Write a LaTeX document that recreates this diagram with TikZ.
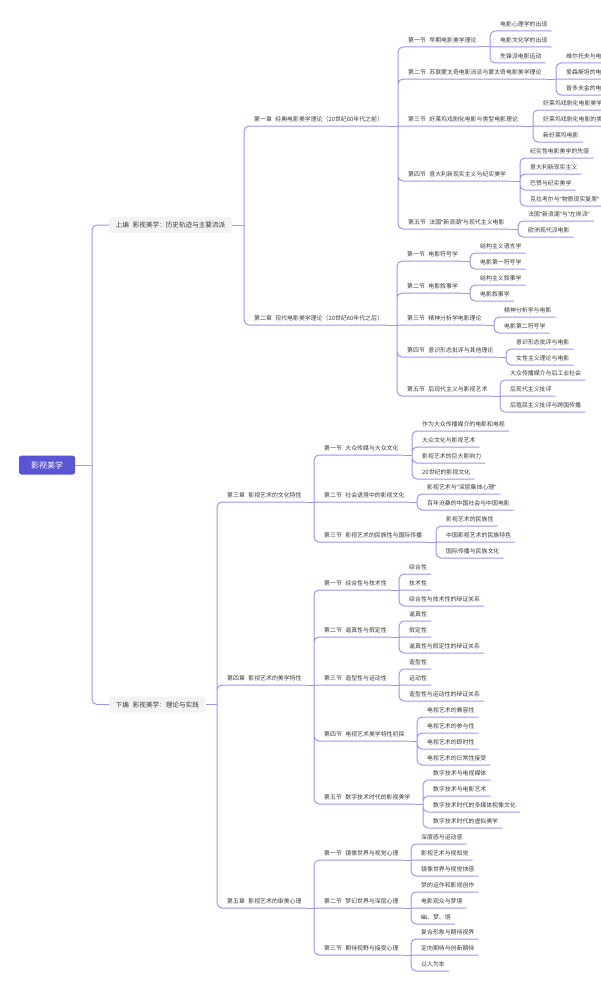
\documentclass[tikz,border=0pt]{standalone}
\usepackage{fontspec}
\usepackage{tikz}
\newfontfamily\cjk{Noto Sans CJK SC}
\newfontfamily\qfont{Noto Sans}
\definecolor{linkc}{HTML}{9B97EE}
\definecolor{rootc}{HTML}{5A55D5}
\definecolor{textc}{HTML}{3A3A3A}
\definecolor{partc}{HTML}{F3F3F5}
\newcommand\tsep{\hspace{0.6em}}
\newcommand\oq{{\qfont “}}
\newcommand\cq{{\qfont ”}}
\tikzset{
  link/.style={draw=linkc, line width=1pt, rounded corners=5pt},
  topic/.style={anchor=south west, inner xsep=4pt, inner ysep=0pt, text height=5.5pt, text depth=4.7pt, font=\cjk\fontsize{5.9}{7}\selectfont, text=textc},
  part/.style={anchor=west, fill=partc, rounded corners=2pt, inner xsep=6.5pt, minimum height=16pt, font=\cjk\fontsize{6.6}{8}\selectfont, text=textc},
  rootbox/.style={fill=rootc, rounded corners=2.5pt, inner xsep=12pt, minimum height=19pt, font=\cjk\fontsize{8}{10}\selectfont, text=white}
}
\begin{document}
\begin{tikzpicture}[x=1pt,y=-1pt]
\useasboundingbox (0,0) rectangle (600,990);

\node[rootbox] (root) at (47,465) {影视美学};
\node[part] (upper) at (109,225) {上编\tsep 影视美学：历史轨迹与主要流派};
\node[part] (lower) at (109,704.5) {下编\tsep 影视美学：理论与实践};

\coordinate (troot) at (92,465);
\draw[link] (root.east) -- (troot);
\draw[link] (troot) |- (upper.west) (troot) |- (lower.west);

% chapters
\node[topic] (ch1) at (250,126) {第一章\tsep 经典电影美学理论（20世纪60年代之前）};
\node[topic] (ch2) at (250,325) {第二章\tsep 现代电影美学理论（20世纪60年代之后）};
\node[topic] (ch3) at (223,502) {第三章\tsep 影视艺术的文化特性};
\node[topic] (ch4) at (223,685) {第四章\tsep 影视艺术的美学特性};
\node[topic] (ch5) at (223,908) {第五章\tsep 影视艺术的审美心理};

\coordinate (tup) at (244,225);
\draw[link] (upper.east) -- (tup);
\draw[link] (tup) |- (ch1.south east) (tup) |- (ch2.south east);
\coordinate (tlow) at (217,704.5);
\draw[link] (lower.east) -- (tlow);
\draw[link] (tlow) |- (ch3.south east) (tlow) |- (ch4.south east) (tlow) |- (ch5.south east);

% sections
\node[topic] (s11) at (404,47) {第一节\tsep 早期电影美学理论};
\node[topic] (s12) at (404,79) {第二节\tsep 苏联蒙太奇电影流派与蒙太奇电影美学理论};
\node[topic] (s13) at (404,126) {第三节\tsep 好莱坞戏剧化电影与类型电影理论};
\node[topic] (s14) at (404,181) {第四节\tsep 意大利新现实主义与纪实美学};
\node[topic] (s15) at (404,229) {第五节\tsep 法国\oq 新浪潮\cq 与现代主义电影};

\node[topic] (s21) at (403,261) {第一节\tsep 电影符号学};
\node[topic] (s22) at (403,293) {第二节\tsep 电影叙事学};
\node[topic] (s23) at (403,325) {第三节\tsep 精神分析学电影理论};
\node[topic] (s24) at (403,357) {第四节\tsep 意识形态批评与其他理论};
\node[topic] (s25) at (403,396) {第五节\tsep 后现代主义与影视艺术};

\node[topic] (s31) at (320,455) {第一节\tsep 大众传媒与大众文化};
\node[topic] (s32) at (320,502) {第二节\tsep 社会语境中的影视文化};
\node[topic] (s33) at (320,542) {第三节\tsep 影视艺术的民族性与国际传播};

\node[topic] (s41) at (320,590) {第一节\tsep 综合性与技术性};
\node[topic] (s42) at (320,637) {第二节\tsep 逼真性与假定性};
\node[topic] (s43) at (320,685) {第三节\tsep 造型性与运动性};
\node[topic] (s44) at (320,741) {第四节\tsep 电视艺术美学特性初探};
\node[topic] (s45) at (320,804) {第五节\tsep 数字技术时代的影视美学};

\node[topic] (s51) at (320,860) {第一节\tsep 镜像世界与视觉心理};
\node[topic] (s52) at (320,908) {第二节\tsep 梦幻世界与深层心理};
\node[topic] (s53) at (320,955) {第三节\tsep 期待视野与接受心理};

\coordinate (t1) at (398,126);
\draw[link] (ch1.south east) -- (t1);
\draw[link] (t1) |- (s11.south east) (t1) |- (s12.south east) (t1) -- (s13.south east) (t1) |- (s14.south east) (t1) |- (s15.south east);
\coordinate (t2) at (397,325);
\draw[link] (ch2.south east) -- (t2);
\draw[link] (t2) |- (s21.south east) (t2) |- (s22.south east) (t2) -- (s23.south east) (t2) |- (s24.south east) (t2) |- (s25.south east);
\coordinate (t3) at (314,502);
\draw[link] (ch3.south east) -- (t3);
\draw[link] (t3) |- (s31.south east) (t3) -- (s32.south east) (t3) |- (s33.south east);
\coordinate (t4) at (314,685);
\draw[link] (ch4.south east) -- (t4);
\draw[link] (t4) |- (s41.south east) (t4) |- (s42.south east) (t4) -- (s43.south east) (t4) |- (s44.south east) (t4) |- (s45.south east);
\coordinate (t5) at (314,908);
\draw[link] (ch5.south east) -- (t5);
\draw[link] (t5) |- (s51.south east) (t5) -- (s52.south east) (t5) |- (s53.south east);

% leaves, upper part
\node[topic] (l11a) at (496,31) {电影心理学的出现};
\node[topic] (l11b) at (496,47) {电影文化学的出现};
\node[topic] (l11c) at (496,63) {先锋派电影运动};
\node[topic] (l12a) at (562,63) {维尔托夫与电影眼睛};
\node[topic] (l12b) at (562,79) {爱森斯坦的电影理论};
\node[topic] (l12c) at (562,95) {普多夫金的电影理论};
\node[topic] (l13a) at (539,110) {好莱坞戏剧化电影美学的形成};
\node[topic] (l13b) at (539,126) {好莱坞戏剧化电影的类型理论};
\node[topic] (l13c) at (539,142) {新好莱坞电影};
\node[topic] (l14a) at (526,158) {纪实性电影美学的先驱};
\node[topic] (l14b) at (526,174) {意大利新现实主义};
\node[topic] (l14c) at (526,190) {巴赞与纪实美学};
\node[topic] (l14d) at (526,206) {克拉考尔与\oq 物质现实复原\cq};
\node[topic] (l15a) at (524,221) {法国\oq 新浪潮\cq 与\oq 左岸派\cq};
\node[topic] (l15b) at (524,237) {欧洲现代派电影};

\node[topic] (l21a) at (476,253) {结构主义语言学};
\node[topic] (l21b) at (476,269) {电影第一符号学};
\node[topic] (l22a) at (476,285) {结构主义叙事学};
\node[topic] (l22b) at (476,301) {电影叙事学};
\node[topic] (l23a) at (500,317) {精神分析学与电影};
\node[topic] (l23b) at (500,333) {电影第二符号学};
\node[topic] (l24a) at (512,349) {意识形态批评与电影};
\node[topic] (l24b) at (512,365) {女性主义理论与电影};
\node[topic] (l25a) at (506,380) {大众传播媒介与后工业社会};
\node[topic] (l25b) at (506,396) {后现代主义批评};
\node[topic] (l25c) at (506,412) {后殖民主义批评与跨国传播};

\coordinate (t11) at (490,47);
\draw[link] (s11.south east) -- (t11);
\draw[link] (t11) |- (l11a.south east) (t11) -- (l11b.south east) (t11) |- (l11c.south east);
\coordinate (t12) at (556,79);
\draw[link] (s12.south east) -- (t12);
\draw[link] (t12) |- (l12a.south east) (t12) -- (l12b.south east) (t12) |- (l12c.south east);
\coordinate (t13) at (533,126);
\draw[link] (s13.south east) -- (t13);
\draw[link] (t13) |- (l13a.south east) (t13) -- (l13b.south east) (t13) |- (l13c.south east);
\coordinate (t14) at (520,181);
\draw[link] (s14.south east) -- (t14);
\draw[link] (t14) |- (l14a.south east) (t14) |- (l14b.south east) (t14) |- (l14c.south east) (t14) |- (l14d.south east);
\coordinate (t15) at (518,229);
\draw[link] (s15.south east) -- (t15);
\draw[link] (t15) |- (l15a.south east) (t15) |- (l15b.south east);

\coordinate (t21) at (470,261);
\draw[link] (s21.south east) -- (t21);
\draw[link] (t21) |- (l21a.south east) (t21) |- (l21b.south east);
\coordinate (t22) at (470,293);
\draw[link] (s22.south east) -- (t22);
\draw[link] (t22) |- (l22a.south east) (t22) |- (l22b.south east);
\coordinate (t23) at (494,325);
\draw[link] (s23.south east) -- (t23);
\draw[link] (t23) |- (l23a.south east) (t23) |- (l23b.south east);
\coordinate (t24) at (506,357);
\draw[link] (s24.south east) -- (t24);
\draw[link] (t24) |- (l24a.south east) (t24) |- (l24b.south east);
\coordinate (t25) at (500,396);
\draw[link] (s25.south east) -- (t25);
\draw[link] (t25) |- (l25a.south east) (t25) -- (l25b.south east) (t25) |- (l25c.south east);

% leaves, lower part
\node[topic] (l31a) at (418,431) {作为大众传播媒介的电影和电视};
\node[topic] (l31b) at (418,447) {大众文化与影视艺术};
\node[topic] (l31c) at (418,463) {影视艺术的巨大影响力};
\node[topic] (l31d) at (418,479) {20世纪的影视文化};
\node[topic] (l32a) at (423,494) {影视艺术与\oq 深层集体心理\cq};
\node[topic] (l32b) at (423,510) {百年沧桑的中国社会与中国电影};
\node[topic] (l33a) at (442,526) {影视艺术的民族性};
\node[topic] (l33b) at (442,542) {中国影视艺术的民族特色};
\node[topic] (l33c) at (442,558) {国际传播与民族文化};

\node[topic] (l41a) at (405,574) {综合性};
\node[topic] (l41b) at (405,590) {技术性};
\node[topic] (l41c) at (405,606) {综合性与技术性的辩证关系};
\node[topic] (l42a) at (405,621) {逼真性};
\node[topic] (l42b) at (405,637) {假定性};
\node[topic] (l42c) at (405,653) {逼真性与假定性的辩证关系};
\node[topic] (l43a) at (405,669) {造型性};
\node[topic] (l43b) at (405,685) {运动性};
\node[topic] (l43c) at (405,701) {造型性与运动性的辩证关系};
\node[topic] (l44a) at (423,717) {电视艺术的兼容性};
\node[topic] (l44b) at (423,733) {电视艺术的参与性};
\node[topic] (l44c) at (423,749) {电视艺术的即时性};
\node[topic] (l44d) at (423,765) {电视艺术的日常性接受};
\node[topic] (l45a) at (429,780) {数字技术与电视媒体};
\node[topic] (l45b) at (429,796) {数字技术与电影艺术};
\node[topic] (l45c) at (429,812) {数字技术时代的多媒体视像文化};
\node[topic] (l45d) at (429,828) {数字技术时代的虚拟美学};

\node[topic] (l51a) at (417,844) {深度感与运动感};
\node[topic] (l51b) at (417,860) {影视艺术与视知觉};
\node[topic] (l51c) at (417,876) {镜像世界与视觉快感};
\node[topic] (l52a) at (417,892) {梦的运作和影视创作};
\node[topic] (l52b) at (417,908) {电影观众与梦境};
\node[topic] (l52c) at (417,924) {幽、梦、境};
\node[topic] (l53a) at (417,939) {复合形象与期待视界};
\node[topic] (l53b) at (417,955) {定向期待与创新期待};
\node[topic] (l53c) at (417,971) {以人为本};

\coordinate (t31) at (412,455);
\draw[link] (s31.south east) -- (t31);
\draw[link] (t31) |- (l31a.south east) (t31) |- (l31b.south east) (t31) |- (l31c.south east) (t31) |- (l31d.south east);
\coordinate (t32) at (417,502);
\draw[link] (s32.south east) -- (t32);
\draw[link] (t32) |- (l32a.south east) (t32) |- (l32b.south east);
\coordinate (t33) at (436,542);
\draw[link] (s33.south east) -- (t33);
\draw[link] (t33) |- (l33a.south east) (t33) -- (l33b.south east) (t33) |- (l33c.south east);

\coordinate (t41) at (399,590);
\draw[link] (s41.south east) -- (t41);
\draw[link] (t41) |- (l41a.south east) (t41) -- (l41b.south east) (t41) |- (l41c.south east);
\coordinate (t42) at (399,637);
\draw[link] (s42.south east) -- (t42);
\draw[link] (t42) |- (l42a.south east) (t42) -- (l42b.south east) (t42) |- (l42c.south east);
\coordinate (t43) at (399,685);
\draw[link] (s43.south east) -- (t43);
\draw[link] (t43) |- (l43a.south east) (t43) -- (l43b.south east) (t43) |- (l43c.south east);
\coordinate (t44) at (417,741);
\draw[link] (s44.south east) -- (t44);
\draw[link] (t44) |- (l44a.south east) (t44) |- (l44b.south east) (t44) |- (l44c.south east) (t44) |- (l44d.south east);
\coordinate (t45) at (423,804);
\draw[link] (s45.south east) -- (t45);
\draw[link] (t45) |- (l45a.south east) (t45) |- (l45b.south east) (t45) |- (l45c.south east) (t45) |- (l45d.south east);

\coordinate (t51) at (411,860);
\draw[link] (s51.south east) -- (t51);
\draw[link] (t51) |- (l51a.south east) (t51) -- (l51b.south east) (t51) |- (l51c.south east);
\coordinate (t52) at (411,908);
\draw[link] (s52.south east) -- (t52);
\draw[link] (t52) |- (l52a.south east) (t52) -- (l52b.south east) (t52) |- (l52c.south east);
\coordinate (t53) at (411,955);
\draw[link] (s53.south east) -- (t53);
\draw[link] (t53) |- (l53a.south east) (t53) -- (l53b.south east) (t53) |- (l53c.south east);

\end{tikzpicture}
\end{document}
